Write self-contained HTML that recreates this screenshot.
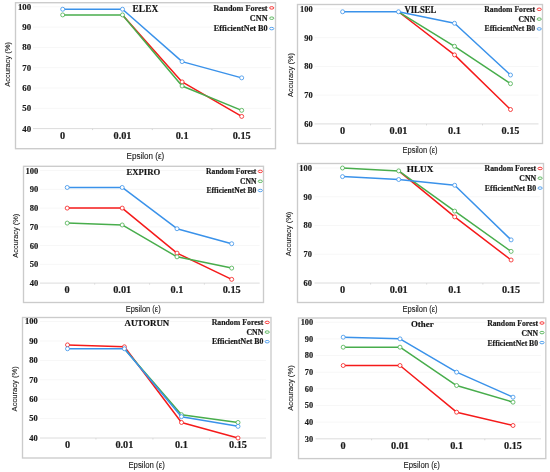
<!DOCTYPE html>
<html><head><meta charset="utf-8"><style>
html,body{margin:0;padding:0;background:#fff;}
svg{display:block;filter:blur(0.3px);}
</style></head><body>
<svg width="550" height="472" viewBox="0 0 550 472">
<rect width="550" height="472" fill="#fff"/>
<rect x="15.5" y="2.7" width="260" height="146" fill="none" stroke="#cbcbcb" stroke-width="1.35"/>
<line x1="33" y1="128.6" x2="271" y2="128.6" stroke="#dcdcdc" stroke-width="1"/>
<text x="31.2" y="131.61" font-family="Liberation Serif" font-weight="bold" stroke="#1a1a1a" stroke-width="0.18" font-size="8.86" text-anchor="end" fill="#1a1a1a">40</text>
<line x1="33" y1="108.3" x2="271" y2="108.3" stroke="#f7f7f7" stroke-width="1"/>
<text x="31.2" y="111.31" font-family="Liberation Serif" font-weight="bold" stroke="#1a1a1a" stroke-width="0.18" font-size="8.86" text-anchor="end" fill="#1a1a1a">50</text>
<line x1="33" y1="88" x2="271" y2="88" stroke="#f7f7f7" stroke-width="1"/>
<text x="31.2" y="91.01" font-family="Liberation Serif" font-weight="bold" stroke="#1a1a1a" stroke-width="0.18" font-size="8.86" text-anchor="end" fill="#1a1a1a">60</text>
<line x1="33" y1="67.7" x2="271" y2="67.7" stroke="#f7f7f7" stroke-width="1"/>
<text x="31.2" y="70.71" font-family="Liberation Serif" font-weight="bold" stroke="#1a1a1a" stroke-width="0.18" font-size="8.86" text-anchor="end" fill="#1a1a1a">70</text>
<line x1="33" y1="47.4" x2="271" y2="47.4" stroke="#f7f7f7" stroke-width="1"/>
<text x="31.2" y="50.41" font-family="Liberation Serif" font-weight="bold" stroke="#1a1a1a" stroke-width="0.18" font-size="8.86" text-anchor="end" fill="#1a1a1a">80</text>
<line x1="33" y1="27.1" x2="271" y2="27.1" stroke="#f7f7f7" stroke-width="1"/>
<text x="31.2" y="30.11" font-family="Liberation Serif" font-weight="bold" stroke="#1a1a1a" stroke-width="0.18" font-size="8.86" text-anchor="end" fill="#1a1a1a">90</text>
<line x1="33" y1="6.8" x2="271" y2="6.8" stroke="#f7f7f7" stroke-width="1"/>
<text x="31.2" y="9.81" font-family="Liberation Serif" font-weight="bold" stroke="#1a1a1a" stroke-width="0.18" font-size="8.86" text-anchor="end" fill="#1a1a1a">100</text>
<line x1="92.6" y1="128.6" x2="92.6" y2="130.1" stroke="#d8d8d8" stroke-width="1"/>
<line x1="152.3" y1="128.6" x2="152.3" y2="130.1" stroke="#d8d8d8" stroke-width="1"/>
<line x1="211.9" y1="128.6" x2="211.9" y2="130.1" stroke="#d8d8d8" stroke-width="1"/>
<text x="62.7" y="138.6" font-family="Liberation Serif" font-weight="bold" stroke="#1a1a1a" stroke-width="0.18" font-size="10.3" text-anchor="middle" fill="#1a1a1a">0</text>
<text x="122.5" y="138.6" font-family="Liberation Serif" font-weight="bold" stroke="#1a1a1a" stroke-width="0.18" font-size="10.3" text-anchor="middle" fill="#1a1a1a">0.01</text>
<text x="182.1" y="138.6" font-family="Liberation Serif" font-weight="bold" stroke="#1a1a1a" stroke-width="0.18" font-size="10.3" text-anchor="middle" fill="#1a1a1a">0.1</text>
<text x="241.7" y="138.6" font-family="Liberation Serif" font-weight="bold" stroke="#1a1a1a" stroke-width="0.18" font-size="10.3" text-anchor="middle" fill="#1a1a1a">0.15</text>
<polyline points="122.5,14.92 182.1,81.91 241.7,116.42" fill="none" stroke="#f51a1a" stroke-width="1.5" stroke-linejoin="round"/>
<circle cx="182.1" cy="81.91" r="2" fill="#fff" stroke="#f51a1a" stroke-width="0.8"/>
<circle cx="241.7" cy="116.42" r="2" fill="#fff" stroke="#f51a1a" stroke-width="0.8"/>
<polyline points="62.7,14.92 122.5,14.92 182.1,85.97 241.7,110.33" fill="none" stroke="#48ad4c" stroke-width="1.5" stroke-linejoin="round"/>
<circle cx="62.7" cy="14.92" r="2" fill="#fff" stroke="#48ad4c" stroke-width="0.8"/>
<circle cx="122.5" cy="14.92" r="2" fill="#fff" stroke="#48ad4c" stroke-width="0.8"/>
<circle cx="182.1" cy="85.97" r="2" fill="#fff" stroke="#48ad4c" stroke-width="0.8"/>
<circle cx="241.7" cy="110.33" r="2" fill="#fff" stroke="#48ad4c" stroke-width="0.8"/>
<polyline points="62.7,9.24 122.5,9.24 182.1,61.61 241.7,77.85" fill="none" stroke="#3a92ea" stroke-width="1.5" stroke-linejoin="round"/>
<circle cx="62.7" cy="9.24" r="2" fill="#fff" stroke="#3a92ea" stroke-width="0.8"/>
<circle cx="122.5" cy="9.24" r="2" fill="#fff" stroke="#3a92ea" stroke-width="0.8"/>
<circle cx="182.1" cy="61.61" r="2" fill="#fff" stroke="#3a92ea" stroke-width="0.8"/>
<circle cx="241.7" cy="77.85" r="2" fill="#fff" stroke="#3a92ea" stroke-width="0.8"/>
<text x="132.6" y="11.9" font-family="Liberation Serif" font-weight="bold" stroke="#1a1a1a" stroke-width="0.18" font-size="9.4" textLength="25.6" lengthAdjust="spacingAndGlyphs" fill="#111">ELEX</text>
<text x="267.6" y="10.61" font-family="Liberation Serif" font-weight="bold" stroke="#1a1a1a" stroke-width="0.18" font-size="8.2" text-anchor="end" fill="#1a1a1a">Random Forest</text>
<ellipse cx="271.7" cy="7.9" rx="2.1" ry="1.25" fill="#fff" stroke="#f51a1a" stroke-width="0.85"/>
<text x="267.6" y="20.91" font-family="Liberation Serif" font-weight="bold" stroke="#1a1a1a" stroke-width="0.18" font-size="8.2" text-anchor="end" fill="#1a1a1a">CNN</text>
<ellipse cx="271.7" cy="18.2" rx="2.1" ry="1.25" fill="#fff" stroke="#48ad4c" stroke-width="0.85"/>
<text x="267.6" y="31.31" font-family="Liberation Serif" font-weight="bold" stroke="#1a1a1a" stroke-width="0.18" font-size="8.2" text-anchor="end" fill="#1a1a1a">EfficientNet B0</text>
<ellipse cx="271.7" cy="28.6" rx="2.1" ry="1.25" fill="#fff" stroke="#3a92ea" stroke-width="0.85"/>
<text transform="translate(10.2,64.4) rotate(-90)" x="-22.4" y="0" font-family="Liberation Sans" stroke="#222" stroke-width="0.12" font-size="7.9" textLength="44.8" lengthAdjust="spacingAndGlyphs" fill="#1c1c1c">Accuracy (%)</text>
<text x="126.6" y="158.6" font-family="Liberation Sans" stroke="#222" stroke-width="0.12" font-size="8.5" textLength="37.7" lengthAdjust="spacingAndGlyphs" fill="#222">Epsilon (ε)</text>
<rect x="297.5" y="4.5" width="245" height="139" fill="none" stroke="#cbcbcb" stroke-width="1.35"/>
<line x1="314.5" y1="123.9" x2="538.5" y2="123.9" stroke="#dcdcdc" stroke-width="1"/>
<text x="312.7" y="126.77" font-family="Liberation Serif" font-weight="bold" stroke="#1a1a1a" stroke-width="0.18" font-size="8.45" text-anchor="end" fill="#1a1a1a">60</text>
<line x1="314.5" y1="95.15" x2="538.5" y2="95.15" stroke="#f7f7f7" stroke-width="1"/>
<text x="312.7" y="98.02" font-family="Liberation Serif" font-weight="bold" stroke="#1a1a1a" stroke-width="0.18" font-size="8.45" text-anchor="end" fill="#1a1a1a">70</text>
<line x1="314.5" y1="66.4" x2="538.5" y2="66.4" stroke="#f7f7f7" stroke-width="1"/>
<text x="312.7" y="69.27" font-family="Liberation Serif" font-weight="bold" stroke="#1a1a1a" stroke-width="0.18" font-size="8.45" text-anchor="end" fill="#1a1a1a">80</text>
<line x1="314.5" y1="37.65" x2="538.5" y2="37.65" stroke="#f7f7f7" stroke-width="1"/>
<text x="312.7" y="40.52" font-family="Liberation Serif" font-weight="bold" stroke="#1a1a1a" stroke-width="0.18" font-size="8.45" text-anchor="end" fill="#1a1a1a">90</text>
<line x1="314.5" y1="8.9" x2="538.5" y2="8.9" stroke="#f7f7f7" stroke-width="1"/>
<text x="312.7" y="11.77" font-family="Liberation Serif" font-weight="bold" stroke="#1a1a1a" stroke-width="0.18" font-size="8.45" text-anchor="end" fill="#1a1a1a">100</text>
<line x1="370.55" y1="123.9" x2="370.55" y2="125.4" stroke="#d8d8d8" stroke-width="1"/>
<line x1="426.5" y1="123.9" x2="426.5" y2="125.4" stroke="#d8d8d8" stroke-width="1"/>
<line x1="482.5" y1="123.9" x2="482.5" y2="125.4" stroke="#d8d8d8" stroke-width="1"/>
<text x="342.6" y="134.2" font-family="Liberation Serif" font-weight="bold" stroke="#1a1a1a" stroke-width="0.18" font-size="10.3" text-anchor="middle" fill="#1a1a1a">0</text>
<text x="398.5" y="134.2" font-family="Liberation Serif" font-weight="bold" stroke="#1a1a1a" stroke-width="0.18" font-size="10.3" text-anchor="middle" fill="#1a1a1a">0.01</text>
<text x="454.5" y="134.2" font-family="Liberation Serif" font-weight="bold" stroke="#1a1a1a" stroke-width="0.18" font-size="10.3" text-anchor="middle" fill="#1a1a1a">0.1</text>
<text x="510.5" y="134.2" font-family="Liberation Serif" font-weight="bold" stroke="#1a1a1a" stroke-width="0.18" font-size="10.3" text-anchor="middle" fill="#1a1a1a">0.15</text>
<polyline points="398.5,11.78 454.5,54.9 510.5,109.53" fill="none" stroke="#f51a1a" stroke-width="1.5" stroke-linejoin="round"/>
<circle cx="454.5" cy="54.9" r="2" fill="#fff" stroke="#f51a1a" stroke-width="0.8"/>
<circle cx="510.5" cy="109.53" r="2" fill="#fff" stroke="#f51a1a" stroke-width="0.8"/>
<polyline points="398.5,11.78 454.5,46.27 510.5,83.65" fill="none" stroke="#48ad4c" stroke-width="1.5" stroke-linejoin="round"/>
<circle cx="454.5" cy="46.27" r="2" fill="#fff" stroke="#48ad4c" stroke-width="0.8"/>
<circle cx="510.5" cy="83.65" r="2" fill="#fff" stroke="#48ad4c" stroke-width="0.8"/>
<polyline points="342.6,11.78 398.5,11.78 454.5,23.27 510.5,75.03" fill="none" stroke="#3a92ea" stroke-width="1.5" stroke-linejoin="round"/>
<circle cx="342.6" cy="11.78" r="2" fill="#fff" stroke="#3a92ea" stroke-width="0.8"/>
<circle cx="398.5" cy="11.78" r="2" fill="#fff" stroke="#3a92ea" stroke-width="0.8"/>
<circle cx="454.5" cy="23.27" r="2" fill="#fff" stroke="#3a92ea" stroke-width="0.8"/>
<circle cx="510.5" cy="75.03" r="2" fill="#fff" stroke="#3a92ea" stroke-width="0.8"/>
<text x="404.4" y="12.5" font-family="Liberation Serif" font-weight="bold" stroke="#1a1a1a" stroke-width="0.18" font-size="9.4" textLength="32" lengthAdjust="spacingAndGlyphs" fill="#111">VILSEL</text>
<text x="535.2" y="11.84" font-family="Liberation Serif" font-weight="bold" stroke="#1a1a1a" stroke-width="0.18" font-size="7.7" text-anchor="end" fill="#1a1a1a">Random Forest</text>
<ellipse cx="539.2" cy="9.3" rx="2.1" ry="1.25" fill="#fff" stroke="#f51a1a" stroke-width="0.85"/>
<text x="535.2" y="21.64" font-family="Liberation Serif" font-weight="bold" stroke="#1a1a1a" stroke-width="0.18" font-size="7.7" text-anchor="end" fill="#1a1a1a">CNN</text>
<ellipse cx="539.2" cy="19.1" rx="2.1" ry="1.25" fill="#fff" stroke="#48ad4c" stroke-width="0.85"/>
<text x="535.2" y="31.44" font-family="Liberation Serif" font-weight="bold" stroke="#1a1a1a" stroke-width="0.18" font-size="7.7" text-anchor="end" fill="#1a1a1a">EfficientNet B0</text>
<ellipse cx="539.2" cy="28.9" rx="2.1" ry="1.25" fill="#fff" stroke="#3a92ea" stroke-width="0.85"/>
<text transform="translate(292.8,75) rotate(-90)" x="-22" y="0" font-family="Liberation Sans" stroke="#222" stroke-width="0.12" font-size="7.9" textLength="44" lengthAdjust="spacingAndGlyphs" fill="#1c1c1c">Accuracy (%)</text>
<text x="402.5" y="153.3" font-family="Liberation Sans" stroke="#222" stroke-width="0.12" font-size="8.5" textLength="35" lengthAdjust="spacingAndGlyphs" fill="#222">Epsilon (ε)</text>
<rect x="23.5" y="166.3" width="240" height="136.2" fill="none" stroke="#cbcbcb" stroke-width="1.35"/>
<line x1="40" y1="283.1" x2="259.7" y2="283.1" stroke="#dcdcdc" stroke-width="1"/>
<text x="38.4" y="286.01" font-family="Liberation Serif" font-weight="bold" stroke="#1a1a1a" stroke-width="0.18" font-size="8.55" text-anchor="end" fill="#1a1a1a">40</text>
<line x1="40" y1="264.35" x2="259.7" y2="264.35" stroke="#f7f7f7" stroke-width="1"/>
<text x="38.4" y="267.26" font-family="Liberation Serif" font-weight="bold" stroke="#1a1a1a" stroke-width="0.18" font-size="8.55" text-anchor="end" fill="#1a1a1a">50</text>
<line x1="40" y1="245.6" x2="259.7" y2="245.6" stroke="#f7f7f7" stroke-width="1"/>
<text x="38.4" y="248.51" font-family="Liberation Serif" font-weight="bold" stroke="#1a1a1a" stroke-width="0.18" font-size="8.55" text-anchor="end" fill="#1a1a1a">60</text>
<line x1="40" y1="226.85" x2="259.7" y2="226.85" stroke="#f7f7f7" stroke-width="1"/>
<text x="38.4" y="229.76" font-family="Liberation Serif" font-weight="bold" stroke="#1a1a1a" stroke-width="0.18" font-size="8.55" text-anchor="end" fill="#1a1a1a">70</text>
<line x1="40" y1="208.1" x2="259.7" y2="208.1" stroke="#f7f7f7" stroke-width="1"/>
<text x="38.4" y="211.01" font-family="Liberation Serif" font-weight="bold" stroke="#1a1a1a" stroke-width="0.18" font-size="8.55" text-anchor="end" fill="#1a1a1a">80</text>
<line x1="40" y1="189.35" x2="259.7" y2="189.35" stroke="#f7f7f7" stroke-width="1"/>
<text x="38.4" y="192.26" font-family="Liberation Serif" font-weight="bold" stroke="#1a1a1a" stroke-width="0.18" font-size="8.55" text-anchor="end" fill="#1a1a1a">90</text>
<line x1="40" y1="170.6" x2="259.7" y2="170.6" stroke="#f7f7f7" stroke-width="1"/>
<text x="38.4" y="173.51" font-family="Liberation Serif" font-weight="bold" stroke="#1a1a1a" stroke-width="0.18" font-size="8.55" text-anchor="end" fill="#1a1a1a">100</text>
<line x1="94.7" y1="283.1" x2="94.7" y2="284.6" stroke="#d8d8d8" stroke-width="1"/>
<line x1="149.6" y1="283.1" x2="149.6" y2="284.6" stroke="#d8d8d8" stroke-width="1"/>
<line x1="204.35" y1="283.1" x2="204.35" y2="284.6" stroke="#d8d8d8" stroke-width="1"/>
<text x="67.2" y="292.7" font-family="Liberation Serif" font-weight="bold" stroke="#1a1a1a" stroke-width="0.18" font-size="10.3" text-anchor="middle" fill="#1a1a1a">0</text>
<text x="122.2" y="292.7" font-family="Liberation Serif" font-weight="bold" stroke="#1a1a1a" stroke-width="0.18" font-size="10.3" text-anchor="middle" fill="#1a1a1a">0.01</text>
<text x="177" y="292.7" font-family="Liberation Serif" font-weight="bold" stroke="#1a1a1a" stroke-width="0.18" font-size="10.3" text-anchor="middle" fill="#1a1a1a">0.1</text>
<text x="231.7" y="292.7" font-family="Liberation Serif" font-weight="bold" stroke="#1a1a1a" stroke-width="0.18" font-size="10.3" text-anchor="middle" fill="#1a1a1a">0.15</text>
<polyline points="67.2,208.1 122.2,208.1 177,253.1 231.7,279.35" fill="none" stroke="#f51a1a" stroke-width="1.5" stroke-linejoin="round"/>
<circle cx="67.2" cy="208.1" r="2" fill="#fff" stroke="#f51a1a" stroke-width="0.8"/>
<circle cx="122.2" cy="208.1" r="2" fill="#fff" stroke="#f51a1a" stroke-width="0.8"/>
<circle cx="177" cy="253.1" r="2" fill="#fff" stroke="#f51a1a" stroke-width="0.8"/>
<circle cx="231.7" cy="279.35" r="2" fill="#fff" stroke="#f51a1a" stroke-width="0.8"/>
<polyline points="67.2,223.1 122.2,224.97 177,256.85 231.7,268.1" fill="none" stroke="#48ad4c" stroke-width="1.5" stroke-linejoin="round"/>
<circle cx="67.2" cy="223.1" r="2" fill="#fff" stroke="#48ad4c" stroke-width="0.8"/>
<circle cx="122.2" cy="224.97" r="2" fill="#fff" stroke="#48ad4c" stroke-width="0.8"/>
<circle cx="177" cy="256.85" r="2" fill="#fff" stroke="#48ad4c" stroke-width="0.8"/>
<circle cx="231.7" cy="268.1" r="2" fill="#fff" stroke="#48ad4c" stroke-width="0.8"/>
<polyline points="67.2,187.47 122.2,187.47 177,228.72 231.7,243.72" fill="none" stroke="#3a92ea" stroke-width="1.5" stroke-linejoin="round"/>
<circle cx="67.2" cy="187.47" r="2" fill="#fff" stroke="#3a92ea" stroke-width="0.8"/>
<circle cx="122.2" cy="187.47" r="2" fill="#fff" stroke="#3a92ea" stroke-width="0.8"/>
<circle cx="177" cy="228.72" r="2" fill="#fff" stroke="#3a92ea" stroke-width="0.8"/>
<circle cx="231.7" cy="243.72" r="2" fill="#fff" stroke="#3a92ea" stroke-width="0.8"/>
<text x="126.4" y="174.8" font-family="Liberation Serif" font-weight="bold" stroke="#1a1a1a" stroke-width="0.18" font-size="9.2" textLength="33.8" lengthAdjust="spacingAndGlyphs" fill="#111">EXPIRO</text>
<text x="256.4" y="174.21" font-family="Liberation Serif" font-weight="bold" stroke="#1a1a1a" stroke-width="0.18" font-size="7.6" text-anchor="end" fill="#1a1a1a">Random Forest</text>
<ellipse cx="260.3" cy="171.4" rx="2.1" ry="1.25" fill="#fff" stroke="#f51a1a" stroke-width="0.85"/>
<text x="256.4" y="184.11" font-family="Liberation Serif" font-weight="bold" stroke="#1a1a1a" stroke-width="0.18" font-size="7.6" text-anchor="end" fill="#1a1a1a">CNN</text>
<ellipse cx="260.3" cy="181.3" rx="2.1" ry="1.25" fill="#fff" stroke="#48ad4c" stroke-width="0.85"/>
<text x="256.4" y="193.31" font-family="Liberation Serif" font-weight="bold" stroke="#1a1a1a" stroke-width="0.18" font-size="7.6" text-anchor="end" fill="#1a1a1a">EfficientNet B0</text>
<ellipse cx="260.3" cy="190.5" rx="2.1" ry="1.25" fill="#fff" stroke="#3a92ea" stroke-width="0.85"/>
<text transform="translate(17.5,235.7) rotate(-90)" x="-22.05" y="0" font-family="Liberation Sans" stroke="#222" stroke-width="0.12" font-size="7.9" textLength="44.1" lengthAdjust="spacingAndGlyphs" fill="#1c1c1c">Accuracy (%)</text>
<text x="125.7" y="311.7" font-family="Liberation Sans" stroke="#222" stroke-width="0.12" font-size="8.5" textLength="35" lengthAdjust="spacingAndGlyphs" fill="#222">Epsilon (ε)</text>
<rect x="297.5" y="163.5" width="246" height="139" fill="none" stroke="#cbcbcb" stroke-width="1.35"/>
<line x1="314.5" y1="283" x2="539.8" y2="283" stroke="#dcdcdc" stroke-width="1"/>
<text x="312" y="285.87" font-family="Liberation Serif" font-weight="bold" stroke="#1a1a1a" stroke-width="0.18" font-size="8.45" text-anchor="end" fill="#1a1a1a">60</text>
<line x1="314.5" y1="254.25" x2="539.8" y2="254.25" stroke="#f7f7f7" stroke-width="1"/>
<text x="312" y="257.12" font-family="Liberation Serif" font-weight="bold" stroke="#1a1a1a" stroke-width="0.18" font-size="8.45" text-anchor="end" fill="#1a1a1a">70</text>
<line x1="314.5" y1="225.5" x2="539.8" y2="225.5" stroke="#f7f7f7" stroke-width="1"/>
<text x="312" y="228.37" font-family="Liberation Serif" font-weight="bold" stroke="#1a1a1a" stroke-width="0.18" font-size="8.45" text-anchor="end" fill="#1a1a1a">80</text>
<line x1="314.5" y1="196.75" x2="539.8" y2="196.75" stroke="#f7f7f7" stroke-width="1"/>
<text x="312" y="199.62" font-family="Liberation Serif" font-weight="bold" stroke="#1a1a1a" stroke-width="0.18" font-size="8.45" text-anchor="end" fill="#1a1a1a">90</text>
<line x1="314.5" y1="168" x2="539.8" y2="168" stroke="#f7f7f7" stroke-width="1"/>
<text x="312" y="170.87" font-family="Liberation Serif" font-weight="bold" stroke="#1a1a1a" stroke-width="0.18" font-size="8.45" text-anchor="end" fill="#1a1a1a">100</text>
<line x1="370.6" y1="283" x2="370.6" y2="284.5" stroke="#d8d8d8" stroke-width="1"/>
<line x1="426.7" y1="283" x2="426.7" y2="284.5" stroke="#d8d8d8" stroke-width="1"/>
<line x1="482.9" y1="283" x2="482.9" y2="284.5" stroke="#d8d8d8" stroke-width="1"/>
<text x="342.5" y="292.7" font-family="Liberation Serif" font-weight="bold" stroke="#1a1a1a" stroke-width="0.18" font-size="10.3" text-anchor="middle" fill="#1a1a1a">0</text>
<text x="398.7" y="292.7" font-family="Liberation Serif" font-weight="bold" stroke="#1a1a1a" stroke-width="0.18" font-size="10.3" text-anchor="middle" fill="#1a1a1a">0.01</text>
<text x="454.7" y="292.7" font-family="Liberation Serif" font-weight="bold" stroke="#1a1a1a" stroke-width="0.18" font-size="10.3" text-anchor="middle" fill="#1a1a1a">0.1</text>
<text x="511.1" y="292.7" font-family="Liberation Serif" font-weight="bold" stroke="#1a1a1a" stroke-width="0.18" font-size="10.3" text-anchor="middle" fill="#1a1a1a">0.15</text>
<polyline points="398.7,170.88 454.7,216.88 511.1,260" fill="none" stroke="#f51a1a" stroke-width="1.5" stroke-linejoin="round"/>
<circle cx="454.7" cy="216.88" r="2" fill="#fff" stroke="#f51a1a" stroke-width="0.8"/>
<circle cx="511.1" cy="260" r="2" fill="#fff" stroke="#f51a1a" stroke-width="0.8"/>
<polyline points="342.5,168 398.7,170.88 454.7,211.12 511.1,251.38" fill="none" stroke="#48ad4c" stroke-width="1.5" stroke-linejoin="round"/>
<circle cx="342.5" cy="168" r="2" fill="#fff" stroke="#48ad4c" stroke-width="0.8"/>
<circle cx="398.7" cy="170.88" r="2" fill="#fff" stroke="#48ad4c" stroke-width="0.8"/>
<circle cx="454.7" cy="211.12" r="2" fill="#fff" stroke="#48ad4c" stroke-width="0.8"/>
<circle cx="511.1" cy="251.38" r="2" fill="#fff" stroke="#48ad4c" stroke-width="0.8"/>
<polyline points="342.5,176.62 398.7,179.5 454.7,185.25 511.1,239.88" fill="none" stroke="#3a92ea" stroke-width="1.5" stroke-linejoin="round"/>
<circle cx="342.5" cy="176.62" r="2" fill="#fff" stroke="#3a92ea" stroke-width="0.8"/>
<circle cx="398.7" cy="179.5" r="2" fill="#fff" stroke="#3a92ea" stroke-width="0.8"/>
<circle cx="454.7" cy="185.25" r="2" fill="#fff" stroke="#3a92ea" stroke-width="0.8"/>
<circle cx="511.1" cy="239.88" r="2" fill="#fff" stroke="#3a92ea" stroke-width="0.8"/>
<text x="406.8" y="172" font-family="Liberation Serif" font-weight="bold" stroke="#1a1a1a" stroke-width="0.18" font-size="9.2" textLength="26.6" lengthAdjust="spacingAndGlyphs" fill="#111">HLUX</text>
<text x="536.2" y="171.37" font-family="Liberation Serif" font-weight="bold" stroke="#1a1a1a" stroke-width="0.18" font-size="7.8" text-anchor="end" fill="#1a1a1a">Random Forest</text>
<ellipse cx="540.1" cy="168.5" rx="2.1" ry="1.25" fill="#fff" stroke="#f51a1a" stroke-width="0.85"/>
<text x="536.2" y="181.07" font-family="Liberation Serif" font-weight="bold" stroke="#1a1a1a" stroke-width="0.18" font-size="7.8" text-anchor="end" fill="#1a1a1a">CNN</text>
<ellipse cx="540.1" cy="178.2" rx="2.1" ry="1.25" fill="#fff" stroke="#48ad4c" stroke-width="0.85"/>
<text x="536.2" y="190.97" font-family="Liberation Serif" font-weight="bold" stroke="#1a1a1a" stroke-width="0.18" font-size="7.8" text-anchor="end" fill="#1a1a1a">EfficientNet B0</text>
<ellipse cx="540.1" cy="188.1" rx="2.1" ry="1.25" fill="#fff" stroke="#3a92ea" stroke-width="0.85"/>
<text transform="translate(291.3,234) rotate(-90)" x="-22.35" y="0" font-family="Liberation Sans" stroke="#222" stroke-width="0.12" font-size="7.9" textLength="44.7" lengthAdjust="spacingAndGlyphs" fill="#1c1c1c">Accuracy (%)</text>
<text x="402.5" y="311.7" font-family="Liberation Sans" stroke="#222" stroke-width="0.12" font-size="8.5" textLength="35" lengthAdjust="spacingAndGlyphs" fill="#222">Epsilon (ε)</text>
<rect x="22.5" y="317.5" width="248.5" height="140.5" fill="none" stroke="#cbcbcb" stroke-width="1.35"/>
<line x1="40" y1="438" x2="266" y2="438" stroke="#dcdcdc" stroke-width="1"/>
<text x="37.6" y="440.87" font-family="Liberation Serif" font-weight="bold" stroke="#1a1a1a" stroke-width="0.18" font-size="8.45" text-anchor="end" fill="#1a1a1a">40</text>
<line x1="40" y1="418.6" x2="266" y2="418.6" stroke="#f7f7f7" stroke-width="1"/>
<text x="37.6" y="421.47" font-family="Liberation Serif" font-weight="bold" stroke="#1a1a1a" stroke-width="0.18" font-size="8.45" text-anchor="end" fill="#1a1a1a">50</text>
<line x1="40" y1="399.2" x2="266" y2="399.2" stroke="#f7f7f7" stroke-width="1"/>
<text x="37.6" y="402.07" font-family="Liberation Serif" font-weight="bold" stroke="#1a1a1a" stroke-width="0.18" font-size="8.45" text-anchor="end" fill="#1a1a1a">60</text>
<line x1="40" y1="379.8" x2="266" y2="379.8" stroke="#f7f7f7" stroke-width="1"/>
<text x="37.6" y="382.67" font-family="Liberation Serif" font-weight="bold" stroke="#1a1a1a" stroke-width="0.18" font-size="8.45" text-anchor="end" fill="#1a1a1a">70</text>
<line x1="40" y1="360.4" x2="266" y2="360.4" stroke="#f7f7f7" stroke-width="1"/>
<text x="37.6" y="363.27" font-family="Liberation Serif" font-weight="bold" stroke="#1a1a1a" stroke-width="0.18" font-size="8.45" text-anchor="end" fill="#1a1a1a">80</text>
<line x1="40" y1="341" x2="266" y2="341" stroke="#f7f7f7" stroke-width="1"/>
<text x="37.6" y="343.87" font-family="Liberation Serif" font-weight="bold" stroke="#1a1a1a" stroke-width="0.18" font-size="8.45" text-anchor="end" fill="#1a1a1a">90</text>
<line x1="40" y1="321.6" x2="266" y2="321.6" stroke="#f7f7f7" stroke-width="1"/>
<text x="37.6" y="324.47" font-family="Liberation Serif" font-weight="bold" stroke="#1a1a1a" stroke-width="0.18" font-size="8.45" text-anchor="end" fill="#1a1a1a">100</text>
<line x1="95.95" y1="438" x2="95.95" y2="439.5" stroke="#d8d8d8" stroke-width="1"/>
<line x1="152.95" y1="438" x2="152.95" y2="439.5" stroke="#d8d8d8" stroke-width="1"/>
<line x1="209.75" y1="438" x2="209.75" y2="439.5" stroke="#d8d8d8" stroke-width="1"/>
<text x="67.5" y="448.2" font-family="Liberation Serif" font-weight="bold" stroke="#1a1a1a" stroke-width="0.18" font-size="10.3" text-anchor="middle" fill="#1a1a1a">0</text>
<text x="124.4" y="448.2" font-family="Liberation Serif" font-weight="bold" stroke="#1a1a1a" stroke-width="0.18" font-size="10.3" text-anchor="middle" fill="#1a1a1a">0.01</text>
<text x="181.5" y="448.2" font-family="Liberation Serif" font-weight="bold" stroke="#1a1a1a" stroke-width="0.18" font-size="10.3" text-anchor="middle" fill="#1a1a1a">0.1</text>
<text x="238" y="448.2" font-family="Liberation Serif" font-weight="bold" stroke="#1a1a1a" stroke-width="0.18" font-size="10.3" text-anchor="middle" fill="#1a1a1a">0.15</text>
<polyline points="67.5,344.88 124.4,346.82 181.5,422.48 238,438" fill="none" stroke="#f51a1a" stroke-width="1.5" stroke-linejoin="round"/>
<circle cx="67.5" cy="344.88" r="2" fill="#fff" stroke="#f51a1a" stroke-width="0.8"/>
<circle cx="124.4" cy="346.82" r="2" fill="#fff" stroke="#f51a1a" stroke-width="0.8"/>
<circle cx="181.5" cy="422.48" r="2" fill="#fff" stroke="#f51a1a" stroke-width="0.8"/>
<circle cx="238" cy="438" r="2" fill="#fff" stroke="#f51a1a" stroke-width="0.8"/>
<polyline points="124.4,348.76 181.5,414.72 238,422.48" fill="none" stroke="#48ad4c" stroke-width="1.5" stroke-linejoin="round"/>
<circle cx="181.5" cy="414.72" r="2" fill="#fff" stroke="#48ad4c" stroke-width="0.8"/>
<circle cx="238" cy="422.48" r="2" fill="#fff" stroke="#48ad4c" stroke-width="0.8"/>
<polyline points="67.5,348.76 124.4,348.76 181.5,416.66 238,426.36" fill="none" stroke="#3a92ea" stroke-width="1.5" stroke-linejoin="round"/>
<circle cx="67.5" cy="348.76" r="2" fill="#fff" stroke="#3a92ea" stroke-width="0.8"/>
<circle cx="124.4" cy="348.76" r="2" fill="#fff" stroke="#3a92ea" stroke-width="0.8"/>
<circle cx="181.5" cy="416.66" r="2" fill="#fff" stroke="#3a92ea" stroke-width="0.8"/>
<circle cx="238" cy="426.36" r="2" fill="#fff" stroke="#3a92ea" stroke-width="0.8"/>
<text x="124.5" y="325.9" font-family="Liberation Serif" font-weight="bold" stroke="#1a1a1a" stroke-width="0.18" font-size="9.0" textLength="44.8" lengthAdjust="spacingAndGlyphs" fill="#111">AUTORUN</text>
<text x="263.3" y="325.17" font-family="Liberation Serif" font-weight="bold" stroke="#1a1a1a" stroke-width="0.18" font-size="7.8" text-anchor="end" fill="#1a1a1a">Random Forest</text>
<ellipse cx="267.2" cy="322.4" rx="2.1" ry="1.25" fill="#fff" stroke="#f51a1a" stroke-width="0.85"/>
<text x="263.3" y="334.87" font-family="Liberation Serif" font-weight="bold" stroke="#1a1a1a" stroke-width="0.18" font-size="7.8" text-anchor="end" fill="#1a1a1a">CNN</text>
<ellipse cx="267.2" cy="332.1" rx="2.1" ry="1.25" fill="#fff" stroke="#48ad4c" stroke-width="0.85"/>
<text x="263.3" y="344.47" font-family="Liberation Serif" font-weight="bold" stroke="#1a1a1a" stroke-width="0.18" font-size="7.8" text-anchor="end" fill="#1a1a1a">EfficientNet B0</text>
<ellipse cx="267.2" cy="341.7" rx="2.1" ry="1.25" fill="#fff" stroke="#3a92ea" stroke-width="0.85"/>
<text transform="translate(16.8,388.8) rotate(-90)" x="-22.6" y="0" font-family="Liberation Sans" stroke="#222" stroke-width="0.12" font-size="7.9" textLength="45.2" lengthAdjust="spacingAndGlyphs" fill="#1c1c1c">Accuracy (%)</text>
<text x="128.4" y="467.7" font-family="Liberation Sans" stroke="#222" stroke-width="0.12" font-size="8.5" textLength="36.4" lengthAdjust="spacingAndGlyphs" fill="#222">Epsilon (ε)</text>
<rect x="298.5" y="318" width="247.3" height="140.6" fill="none" stroke="#cbcbcb" stroke-width="1.35"/>
<line x1="315.5" y1="438.82" x2="541" y2="438.82" stroke="#dcdcdc" stroke-width="1"/>
<text x="313.2" y="441.66" font-family="Liberation Serif" font-weight="bold" stroke="#1a1a1a" stroke-width="0.18" font-size="8.34" text-anchor="end" fill="#1a1a1a">30</text>
<line x1="315.5" y1="422.16" x2="541" y2="422.16" stroke="#f7f7f7" stroke-width="1"/>
<text x="313.2" y="425" font-family="Liberation Serif" font-weight="bold" stroke="#1a1a1a" stroke-width="0.18" font-size="8.34" text-anchor="end" fill="#1a1a1a">40</text>
<line x1="315.5" y1="405.5" x2="541" y2="405.5" stroke="#f7f7f7" stroke-width="1"/>
<text x="313.2" y="408.34" font-family="Liberation Serif" font-weight="bold" stroke="#1a1a1a" stroke-width="0.18" font-size="8.34" text-anchor="end" fill="#1a1a1a">50</text>
<line x1="315.5" y1="388.84" x2="541" y2="388.84" stroke="#f7f7f7" stroke-width="1"/>
<text x="313.2" y="391.68" font-family="Liberation Serif" font-weight="bold" stroke="#1a1a1a" stroke-width="0.18" font-size="8.34" text-anchor="end" fill="#1a1a1a">60</text>
<line x1="315.5" y1="372.18" x2="541" y2="372.18" stroke="#f7f7f7" stroke-width="1"/>
<text x="313.2" y="375.02" font-family="Liberation Serif" font-weight="bold" stroke="#1a1a1a" stroke-width="0.18" font-size="8.34" text-anchor="end" fill="#1a1a1a">70</text>
<line x1="315.5" y1="355.52" x2="541" y2="355.52" stroke="#f7f7f7" stroke-width="1"/>
<text x="313.2" y="358.36" font-family="Liberation Serif" font-weight="bold" stroke="#1a1a1a" stroke-width="0.18" font-size="8.34" text-anchor="end" fill="#1a1a1a">80</text>
<line x1="315.5" y1="338.86" x2="541" y2="338.86" stroke="#f7f7f7" stroke-width="1"/>
<text x="313.2" y="341.7" font-family="Liberation Serif" font-weight="bold" stroke="#1a1a1a" stroke-width="0.18" font-size="8.34" text-anchor="end" fill="#1a1a1a">90</text>
<line x1="315.5" y1="322.2" x2="541" y2="322.2" stroke="#f7f7f7" stroke-width="1"/>
<text x="313.2" y="325.04" font-family="Liberation Serif" font-weight="bold" stroke="#1a1a1a" stroke-width="0.18" font-size="8.34" text-anchor="end" fill="#1a1a1a">100</text>
<line x1="371.6" y1="438.82" x2="371.6" y2="440.32" stroke="#d8d8d8" stroke-width="1"/>
<line x1="428.3" y1="438.82" x2="428.3" y2="440.32" stroke="#d8d8d8" stroke-width="1"/>
<line x1="484.8" y1="438.82" x2="484.8" y2="440.32" stroke="#d8d8d8" stroke-width="1"/>
<text x="343.2" y="448.7" font-family="Liberation Serif" font-weight="bold" stroke="#1a1a1a" stroke-width="0.18" font-size="10.3" text-anchor="middle" fill="#1a1a1a">0</text>
<text x="400" y="448.7" font-family="Liberation Serif" font-weight="bold" stroke="#1a1a1a" stroke-width="0.18" font-size="10.3" text-anchor="middle" fill="#1a1a1a">0.01</text>
<text x="456.6" y="448.7" font-family="Liberation Serif" font-weight="bold" stroke="#1a1a1a" stroke-width="0.18" font-size="10.3" text-anchor="middle" fill="#1a1a1a">0.1</text>
<text x="513" y="448.7" font-family="Liberation Serif" font-weight="bold" stroke="#1a1a1a" stroke-width="0.18" font-size="10.3" text-anchor="middle" fill="#1a1a1a">0.15</text>
<polyline points="343.2,365.52 400,365.52 456.6,412.16 513,425.49" fill="none" stroke="#f51a1a" stroke-width="1.5" stroke-linejoin="round"/>
<circle cx="343.2" cy="365.52" r="2" fill="#fff" stroke="#f51a1a" stroke-width="0.8"/>
<circle cx="400" cy="365.52" r="2" fill="#fff" stroke="#f51a1a" stroke-width="0.8"/>
<circle cx="456.6" cy="412.16" r="2" fill="#fff" stroke="#f51a1a" stroke-width="0.8"/>
<circle cx="513" cy="425.49" r="2" fill="#fff" stroke="#f51a1a" stroke-width="0.8"/>
<polyline points="343.2,347.19 400,347.19 456.6,385.51 513,402.17" fill="none" stroke="#48ad4c" stroke-width="1.5" stroke-linejoin="round"/>
<circle cx="343.2" cy="347.19" r="2" fill="#fff" stroke="#48ad4c" stroke-width="0.8"/>
<circle cx="400" cy="347.19" r="2" fill="#fff" stroke="#48ad4c" stroke-width="0.8"/>
<circle cx="456.6" cy="385.51" r="2" fill="#fff" stroke="#48ad4c" stroke-width="0.8"/>
<circle cx="513" cy="402.17" r="2" fill="#fff" stroke="#48ad4c" stroke-width="0.8"/>
<polyline points="343.2,337.19 400,338.86 456.6,372.18 513,397.17" fill="none" stroke="#3a92ea" stroke-width="1.5" stroke-linejoin="round"/>
<circle cx="343.2" cy="337.19" r="2" fill="#fff" stroke="#3a92ea" stroke-width="0.8"/>
<circle cx="400" cy="338.86" r="2" fill="#fff" stroke="#3a92ea" stroke-width="0.8"/>
<circle cx="456.6" cy="372.18" r="2" fill="#fff" stroke="#3a92ea" stroke-width="0.8"/>
<circle cx="513" cy="397.17" r="2" fill="#fff" stroke="#3a92ea" stroke-width="0.8"/>
<text x="410.9" y="326.7" font-family="Liberation Serif" font-weight="bold" stroke="#1a1a1a" stroke-width="0.18" font-size="9.0" textLength="22.7" lengthAdjust="spacingAndGlyphs" fill="#111">Other</text>
<text x="538.1" y="326.14" font-family="Liberation Serif" font-weight="bold" stroke="#1a1a1a" stroke-width="0.18" font-size="7.7" text-anchor="end" fill="#1a1a1a">Random Forest</text>
<ellipse cx="542" cy="323" rx="2.1" ry="1.25" fill="#fff" stroke="#f51a1a" stroke-width="0.85"/>
<text x="538.1" y="335.74" font-family="Liberation Serif" font-weight="bold" stroke="#1a1a1a" stroke-width="0.18" font-size="7.7" text-anchor="end" fill="#1a1a1a">CNN</text>
<ellipse cx="542" cy="332.6" rx="2.1" ry="1.25" fill="#fff" stroke="#48ad4c" stroke-width="0.85"/>
<text x="538.1" y="345.74" font-family="Liberation Serif" font-weight="bold" stroke="#1a1a1a" stroke-width="0.18" font-size="7.7" text-anchor="end" fill="#1a1a1a">EfficientNet B0</text>
<ellipse cx="542" cy="342.6" rx="2.1" ry="1.25" fill="#fff" stroke="#3a92ea" stroke-width="0.85"/>
<text transform="translate(292.5,388) rotate(-90)" x="-22.75" y="0" font-family="Liberation Sans" stroke="#222" stroke-width="0.12" font-size="7.9" textLength="45.5" lengthAdjust="spacingAndGlyphs" fill="#1c1c1c">Accuracy (%)</text>
<text x="403.6" y="467.6" font-family="Liberation Sans" stroke="#222" stroke-width="0.12" font-size="8.5" textLength="36.2" lengthAdjust="spacingAndGlyphs" fill="#222">Epsilon (ε)</text>
</svg>
</body></html>
